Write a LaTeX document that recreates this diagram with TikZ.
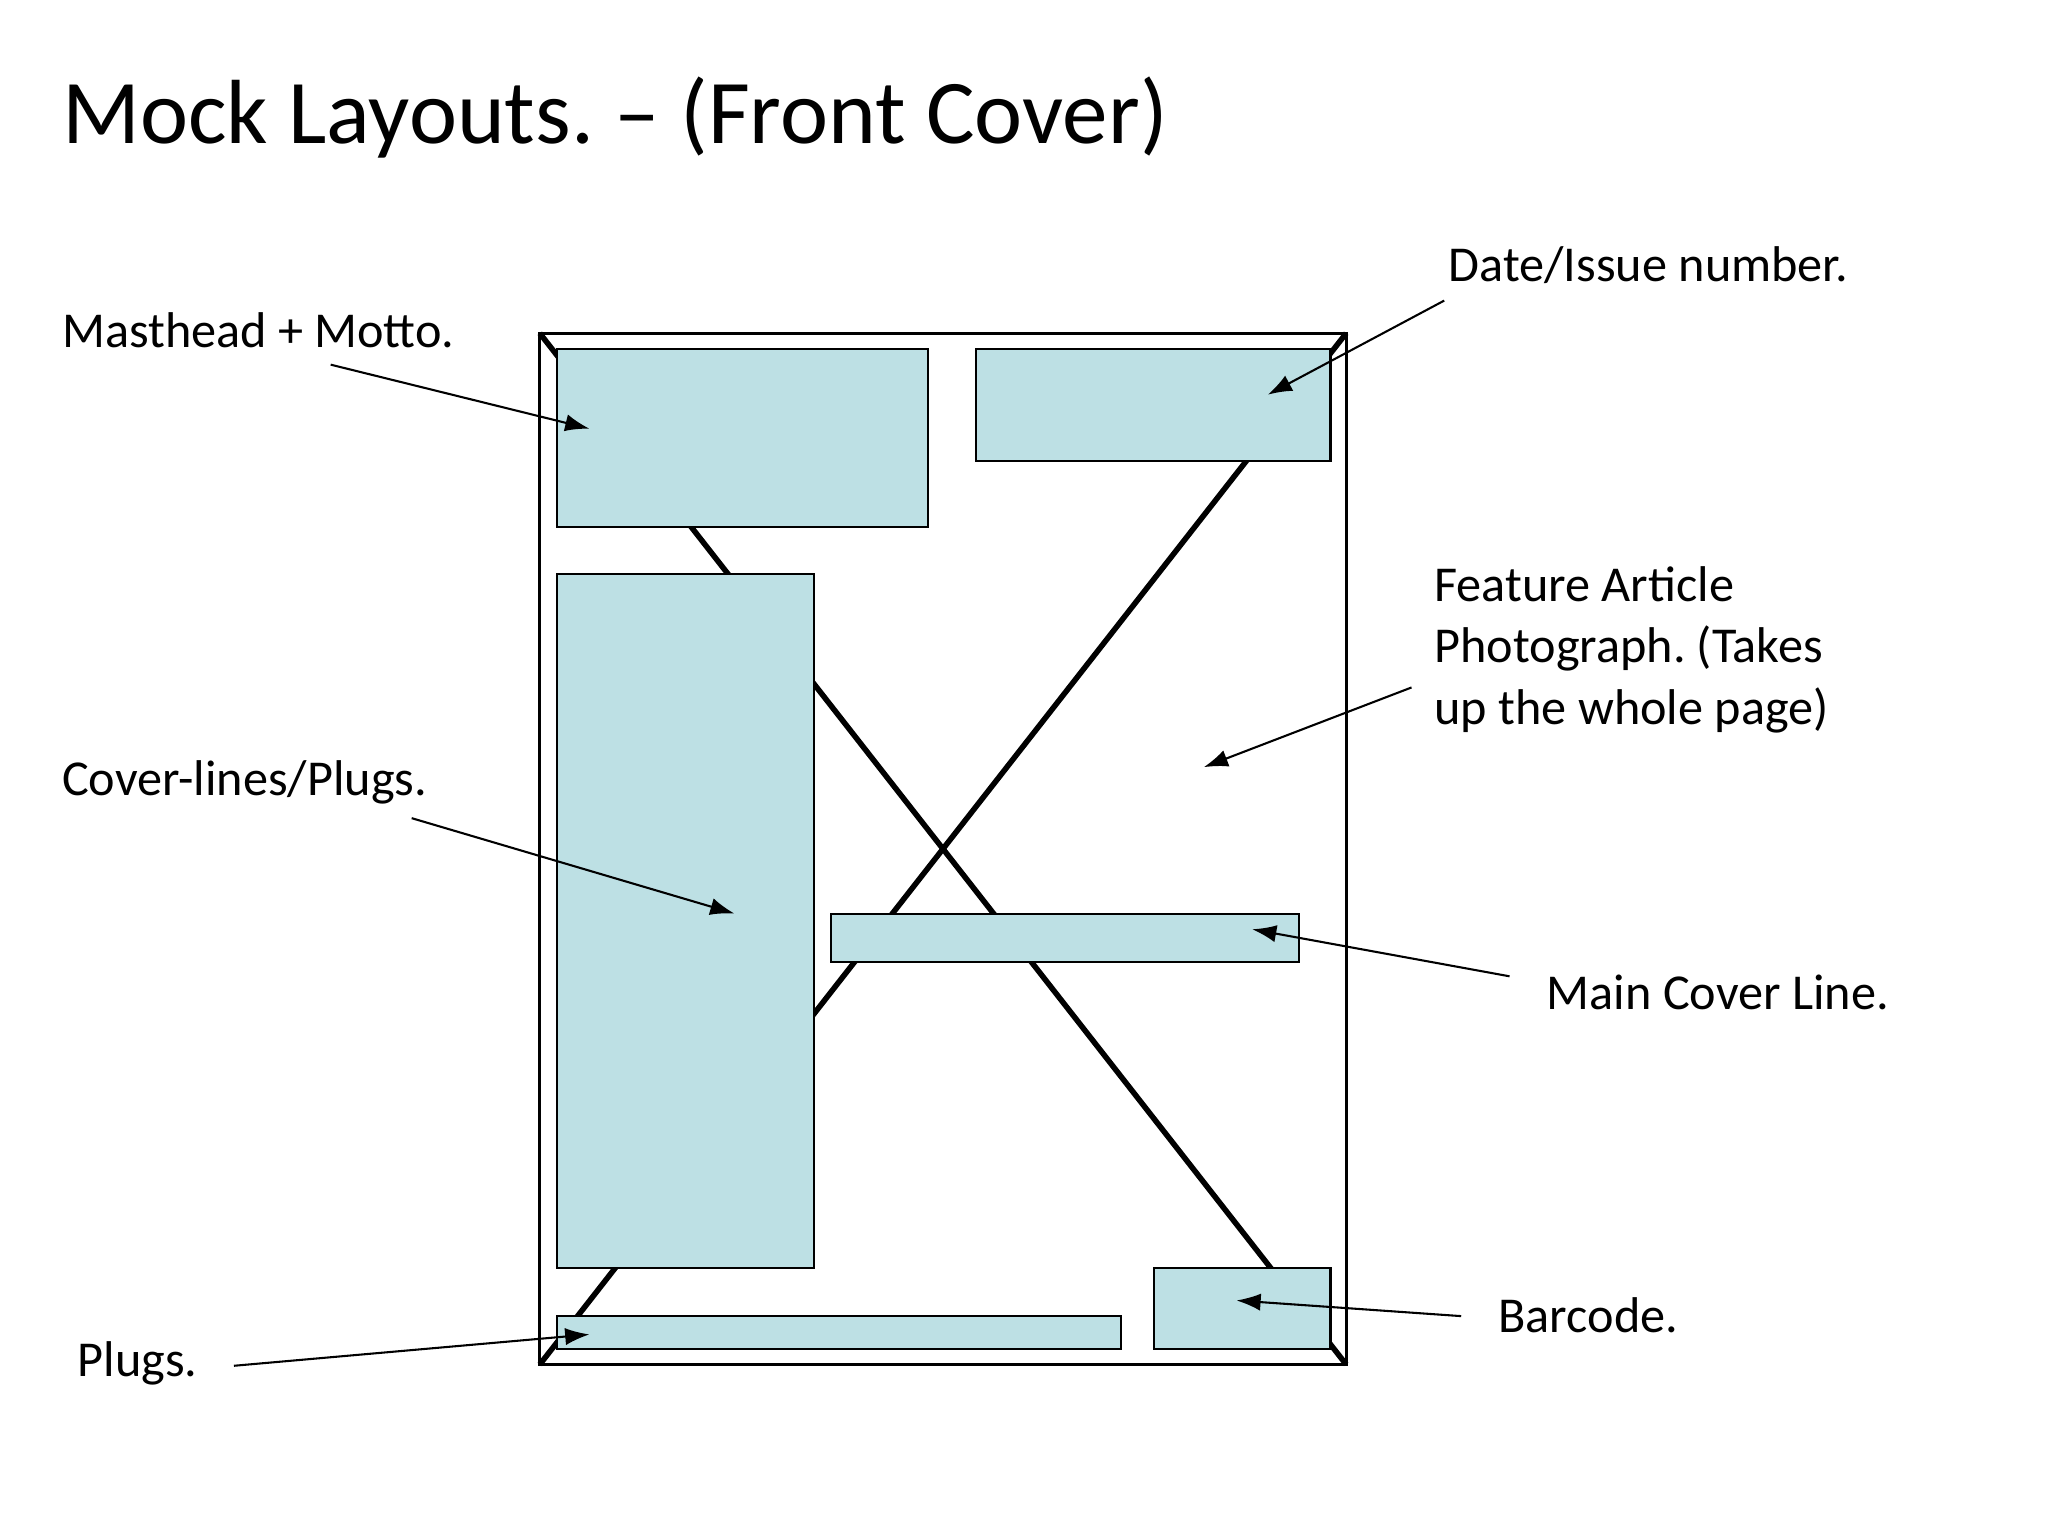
\documentclass[tikz,border=0pt]{standalone}
\usepackage{fontspec}
\setmainfont{Carlito}
\usetikzlibrary{arrows.meta}
\definecolor{boxblue}{HTML}{BDE0E4}
\frenchspacing
\begin{document}
\begin{tikzpicture}[x=0.013256cm,y=-0.013256cm,
  blk/.style={draw=black,line width=0.6pt,fill=boxblue},
  lbl/.style={anchor=west,inner sep=0pt,font=\fontsize{14.5}{17.5}\selectfont,align=left},
  arr/.style={-{Latex[length=7pt,width=5pt]},line width=0.6pt},
  xline/.style={line width=1.6pt}]
\useasboundingbox (0,0) rectangle (1567,1175);
\node[anchor=base west,inner sep=0pt,font=\fontsize{26.3}{31}\selectfont] (title) at (47,110) {Mock Layouts. – (Front Cover)};
\coordinate (tl) at (413,255); \coordinate (tr) at (1030,255);
\coordinate (bl) at (413,1044); \coordinate (br) at (1030,1044);
\draw[line width=0.8pt] (tl) rectangle (br);
\draw[xline] (tl) -- (br);
\draw[xline] (tr) -- (bl);
\draw[blk] (426,267) rectangle (710,403);
\draw[blk] (747,267) rectangle (1018,353);
\draw[blk] (426,439) rectangle (623,970);
\draw[blk] (636,699) rectangle (994,736);
\draw[blk] (426,1007) rectangle (858,1032);
\draw[blk] (883,970) rectangle (1018,1032);
\node[lbl] (lmast) at (47,253) {Masthead + Motto.};
\node[lbl] (ldate) at (1108,203) {Date/Issue number.};
\node[lbl,font=\fontsize{14.5}{17.8}\selectfont] (lfeat) at (1097,497) {Feature Article\\Photograph. (Takes\\up the whole page)};
\node[lbl] (lcover) at (47,599) {Cover-lines/Plugs.};
\node[lbl] (lmain) at (1183,759) {Main Cover Line.};
\node[lbl] (lbar) at (1146,1006) {Barcode.};
\node[lbl] (lplugs) at (59,1043) {Plugs.};
\coordinate (a1) at (253,279); \coordinate (b1) at (451,328);
\coordinate (a2) at (1105,230); \coordinate (b2) at (970,302);
\coordinate (a3) at (1080,526); \coordinate (b3) at (921,587);
\coordinate (a4) at (315,626); \coordinate (b4) at (562,699);
\coordinate (a5) at (1155,747); \coordinate (b5) at (958,711);
\coordinate (a6) at (1118,1007); \coordinate (b6) at (946,995);
\coordinate (a7) at (179,1045); \coordinate (b7) at (451,1021);
\foreach \i in {1,...,7} \draw[arr] (a\i) -- (b\i);
\end{tikzpicture}
\end{document}
